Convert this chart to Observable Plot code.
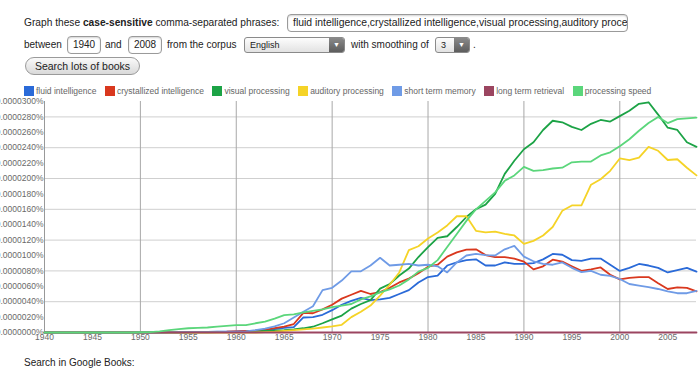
<!DOCTYPE html>
<html><head><meta charset="utf-8">
<script src="https://cdn.jsdelivr.net/npm/d3@7"></script>
<script src="https://cdn.jsdelivr.net/npm/@observablehq/plot@0.6"></script>
<style>
html,body{margin:0;padding:0;background:#fff;width:700px;height:368px;overflow:hidden;font-family:"Liberation Sans",Arial,Helvetica,sans-serif;color:#222;}
.t{position:absolute;white-space:nowrap;font-size:10px;line-height:12px;}
.box{position:absolute;box-sizing:border-box;border:1px solid #9a9a9a;border-radius:4px;background:#fff;font-size:10px;line-height:16px;height:18px;box-shadow:inset 0 1px 2px rgba(0,0,0,0.18);overflow:hidden;white-space:nowrap;color:#222;}
.sel{position:absolute;box-sizing:border-box;border:1px solid #8a8a8a;border-radius:3px;height:16px;background:linear-gradient(#fdfdfd,#e2e2e2);font-size:9px;line-height:14px;overflow:hidden;white-space:nowrap;}
.sel .arr{position:absolute;right:0;top:0;bottom:0;width:15px;background:linear-gradient(#8a8a8a,#5d5d5d);color:#fff;font-size:7px;line-height:14px;text-align:center;}
.btn{position:absolute;box-sizing:border-box;border:1px solid #9a9a9a;border-radius:9px;background:linear-gradient(#fafafa,#d9d9d9);font-size:10.5px;line-height:16px;text-align:center;white-space:nowrap;color:#222;}
#legend{position:absolute;left:24px;top:85px;display:flex;align-items:center;height:12px;}
#legend .it{display:flex;align-items:center;margin-right:8.5px;font-size:8.5px;color:#666;white-space:nowrap;}
#legend .sw{width:10px;height:10px;margin-right:2px;}
#chart{position:absolute;left:0;top:96px;}
</style></head>
<body>
<div class="t" style="left:24px;top:17px;font-size:10.2px;">Graph these <b>case-sensitive</b> comma-separated phrases:</div>
<div class="box" style="left:287px;top:14px;width:341px;padding-left:5px;font-size:10.4px;">fluid intelligence,crystallized intelligence,visual processing,auditory processing,short term memory,long term retrieval,processing speed</div>
<div class="t" style="left:24px;top:39px;">between</div>
<div class="box" style="left:67px;top:36px;width:34px;text-align:center;">1940</div>
<div class="t" style="left:105px;top:39px;">and</div>
<div class="box" style="left:128px;top:36px;width:34px;text-align:center;">2008</div>
<div class="t" style="left:167px;top:39px;">from the corpus</div>
<div class="sel" style="left:244px;top:37px;width:101px;padding-left:5px;">English<div class="arr">&#9660;</div></div>
<div class="t" style="left:351px;top:39px;">with smoothing of</div>
<div class="sel" style="left:435px;top:37px;width:35px;padding-left:5px;">3<div class="arr">&#9660;</div></div>
<div class="t" style="left:473px;top:39px;">.</div>
<div class="btn" style="left:25px;top:57px;width:115px;height:18px;">Search lots of books</div>
<div id="legend"></div>
<div id="chart"></div>
<div class="t" style="left:24px;top:357px;">Search in Google Books:</div>
<script>
const years = d3.range(1940, 2009);
const seriesNames = ["fluid intelligence","crystallized intelligence","visual processing","auditory processing","short term memory","long term retrieval","processing speed"];
const seriesColors = ["#2a6ad8","#d9381e","#1ca346","#f5d327","#6f9be6","#9b4560","#5bd67b"];
// values in units of 0.0000001 %
const fluidIntelligence = [0,0,0,0,0,0,0,0,0,0, 0,0,0.3,0.5,0.5,0.6,0.7,0.8,1,1.2,
  1.5,2,2.5,3.5,4.5,6,7,19.5,20,23, 29,36,41,45,42,43,45,50,55,65,
  72,74,87,91,94,95,87,87,91,89, 89,90,95,102,101,94,93,96,96,88,
  80,84,89,87,84,78,81,84,79];
const crystallizedIntelligence = [0,0,0,0,0,0,0,0,0,0, 0,0,0,0.2,0.3,0.5,0.5,0.6,0.8,1,
  1.5,2,2.5,3.5,5.6,7.5,11,25.5,25,30, 36,44,49,54,50,52.5,58,65,70,77,
  85.5,88,98.5,104,107.5,108,100.5,98,98,96, 92,82,86,94.5,92,86,80,82,84.5,75,
  69,71,72,72,64,56.5,58.5,58,53.5];
const visualProcessing = [0,0,0,0,0,0,0,0,0,0, 0,0,0,0,0,0,0.2,0.3,0.5,0.6,
  0.8,1,1.5,2,2.5,3,4,5.5,7.5,12, 17,22,31,37,42,57,63,74,83,98,
  111,123,125,137,150,160,166,180,206,223, 238,247,263,275,273,267,263,271,276,274,
  281,288,297,299,283,266,263,247,241];
const auditoryProcessing = [0,0,0,0,0,0,0,0,0,0, 0,0,0,0,0,0,0,0,0,0,
  0,0,0,0.5,1,2,3,4,5,6.5, 8,10,20,27,35,48,62,78,107,112,
  122,130,139,151,151,132,130,131,128,126, 115,119,126,137,158,165,165,192,199,210,
  226,224,227,241,236,224,225,214,204];
const shortTermMemory = [0,0,0,0,0,0,0,0,0,0, 0,0,0,0.2,0.3,0.4,0.5,0.5,0.6,0.8,
  1,1.5,3,5,8,12,19.5,27,34,55, 58,67.5,79.5,79.5,87,97,87,88,89,87,
  88,86,78,91,100,102,100.5,100,108,112.5, 98.5,92.5,89,88,91,84,78.5,80,75,73.5,
  69.5,63,61,59,56.5,53.5,51,51,54];
const longTermRetrieval = [0,0,0,0,0,0,0,0,0,0, 0,0,0,0,0,0,0,0,0,0,
  0,0,0,0,0,0,0,0,0,0, 0,0,0,0,0,0,0,0,0,0,
  0,0,0,0,0,0,0,0,0,0, 0,0,0,0,0,0,0,0,0,0,
  0,0,0,0,0,0,0,0,0];
const processingSpeed = [0,0,0,0,0,0,0,0,0,0, 0.3,0.5,1.5,3,4.5,5.5,6,6.5,7.5,8.5,
  9.5,9.5,12,14,18,22.5,23.5,26,28,30, 33,35,37,43,47,52,56,61,69,79,
  84,94,111,128,145,160,171,182,197,204, 215,210,211,213,214,221,222,222,230,234,
  242,251,262,272,280,272,277,278,279];
const seriesValues = [fluidIntelligence, crystallizedIntelligence, visualProcessing, auditoryProcessing, shortTermMemory, longTermRetrieval, processingSpeed];
const xTicks = d3.range(1940, 2009, 5);
const yTicks = d3.range(0, 301, 20);
const yGrid = d3.range(40, 281, 40);
const xGrid = d3.range(1950, 2001, 10);

const data = [];
seriesNames.forEach((name, i) => years.forEach((yr, j) => data.push({series: name, year: yr, value: seriesValues[i][j]})));

const legend = document.getElementById("legend");
seriesNames.forEach((n, i) => {
  const it = document.createElement("div"); it.className = "it";
  const sw = document.createElement("div"); sw.className = "sw"; sw.style.background = seriesColors[i];
  it.appendChild(sw); it.appendChild(document.createTextNode(n));
  legend.appendChild(it);
});

const chart = Plot.plot({
  width: 700, height: 252,
  marginTop: 5, marginBottom: 16, marginLeft: 44, marginRight: 4,
  style: {fontFamily: "'Liberation Sans', Arial, sans-serif", fontSize: "8.5px", background: "transparent", overflow: "visible"},
  x: {domain: [1940, 2008]},
  y: {domain: [0, 300]},
  color: {domain: seriesNames, range: seriesColors},
  marks: [
    Plot.gridY(yGrid, {stroke: "#cfcfcf", strokeOpacity: 1}),
    Plot.gridX(xGrid, {stroke: "#a8a8a8", strokeOpacity: 1}),
    Plot.ruleY([0], {stroke: "#bbb"}),
    Plot.ruleX([1940], {stroke: "#999"}),
    Plot.axisY(yTicks, {tickSize: 0, tickPadding: 1, tickFormat: d => (d / 1e7).toFixed(7) + "%", fill: "#6a6a6a", fontSize: 8.5, label: null}),
    Plot.axisX(xTicks, {tickSize: 0, tickPadding: 1, tickFormat: d => String(d), fill: "#6a6a6a", fontSize: 8.5, label: null}),
    Plot.line(data, {x: "year", y: "value", z: "series", stroke: "series", strokeWidth: 1.8, strokeLinejoin: "round"})
  ]
});
document.getElementById("chart").appendChild(chart);
</script>
</body></html>
